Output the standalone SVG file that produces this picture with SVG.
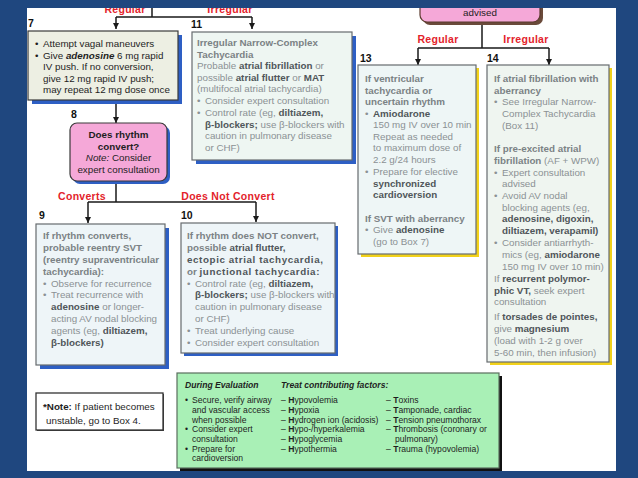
<svg xmlns="http://www.w3.org/2000/svg" width="638" height="478" viewBox="0 0 638 478">
<defs>
<marker id="ah" viewBox="0 0 10 10" refX="10" refY="5" markerWidth="6" markerHeight="8" markerUnits="userSpaceOnUse" orient="auto"><path d="M0,0 L10,5 L0,10 z" fill="#1a1a1a"/></marker>
<style>
text{font-family:"Liberation Sans",Arial,sans-serif;font-size:9.8px}
.k{fill:#1e1e1e}
.g{fill:#8b9194}
.gb{fill:#7b8285;font-weight:700}
.db{fill:#50565a;font-weight:700}
.num{font-weight:700;font-size:10.5px;fill:#111}
.lbl{font-weight:700;font-size:10.5px;fill:#e3232b;text-anchor:middle;letter-spacing:0.3px}
.sh-b{fill:#2e5fc4}
.sh-y{fill:#f2d21a}
.bx{stroke:#666b6e;stroke-width:1.2}
.conn{stroke:#1a1a1a;stroke-width:1.5;fill:none}
.sm{font-size:8.6px}
</style>
</defs>
<rect x="0" y="0" width="638" height="478" fill="#1f477f"/>
<rect x="27" y="8" width="589" height="463" fill="#ffffff"/>

<g id="connectors">
<path class="conn" d="M152,0 V17 M116,17 H252"/>
<path class="conn" d="M116,17 V29" marker-end="url(#ah)"/>
<path class="conn" d="M252,17 V29" marker-end="url(#ah)"/>
<path class="conn" d="M116,100 V123" marker-end="url(#ah)"/>
<path class="conn" d="M116,181 V202 M88,202 H256"/>
<path class="conn" d="M88,202 V223" marker-end="url(#ah)"/>
<path class="conn" d="M256,202 V222" marker-end="url(#ah)"/>
<path class="conn" d="M482,22 V48 M418,48 H549"/>
<path class="conn" d="M418,48 V65" marker-end="url(#ah)"/>
<path class="conn" d="M549,48 V65" marker-end="url(#ah)"/>
<text class="lbl" x="125" y="13">Regular</text>
<text class="lbl" x="230" y="13">Irregular</text>
<text class="lbl" x="438" y="43">Regular</text>
<text class="lbl" x="526" y="43">Irregular</text>
<text class="lbl" x="82" y="200">Converts</text>
<text class="lbl" x="228" y="200">Does Not Convert</text>
</g>

<g id="node-top">
<rect x="423" y="-8" width="120" height="33" rx="7" fill="#6a4a3a"/>
<rect x="420" y="-10" width="120" height="32" rx="7" fill="#f5a8d8" stroke="#5a3a2e" stroke-width="1.2"/>
<text x="480" y="16" text-anchor="middle" class="k">advised</text>
</g>

<g id="node7">
<text class="num" x="28" y="27">7</text>
<rect class="sh-b" x="32" y="35" width="150" height="69"/>
<rect x="28" y="31" width="150" height="69" fill="#edefe3" stroke="#3a3a3a" stroke-width="1.2"/>
<text class="k" x="35" y="47">•</text><text class="k" x="43" y="47">Attempt vagal maneuvers</text>
<text class="k" x="35" y="58.5">•</text><text class="k" x="43" y="58.5">Give <tspan font-weight="700" font-style="italic">adenosine</tspan> 6 mg rapid</text>
<text class="k" x="43" y="70">IV push. If no conversion,</text>
<text class="k" x="43" y="81.5">give 12 mg rapid IV push;</text>
<text class="k" x="43" y="93">may repeat 12 mg dose once</text>
</g>

<g id="node11">
<text class="num" x="191" y="28">11</text>
<rect class="sh-b" x="196" y="36" width="160" height="128"/>
<rect class="bx" x="192" y="32" width="160" height="128" fill="#eef6f2"/>
<text class="gb" x="197" y="46">Irregular Narrow-Complex</text>
<text class="gb" x="197" y="57.5">Tachycardia</text>
<text class="g" x="197" y="69">Probable <tspan class="db">atrial fibrillation</tspan> or</text>
<text class="g" x="197" y="81">possible <tspan class="db">atrial flutter</tspan> or <tspan class="db">MAT</tspan></text>
<text class="g" x="197" y="92">(multifocal atrial tachycardia)</text>
<text class="g" x="197" y="104">•</text><text class="g" x="205" y="104">Consider expert consultation</text>
<text class="g" x="197" y="116">•</text><text class="g" x="205" y="116">Control rate (eg, <tspan class="db">diltiazem,</tspan></text>
<text class="g" x="205" y="128"><tspan class="db">β-blockers;</tspan> use β-blockers with</text>
<text class="g" x="205" y="139">caution in pulmonary disease</text>
<text class="g" x="205" y="151">or CHF)</text>
</g>

<g id="node8">
<text class="num" x="71" y="118">8</text>
<rect class="sh-b" x="73" y="126" width="97" height="58" rx="7"/>
<rect x="70" y="123" width="97" height="58" rx="7" fill="#f5a8d8" stroke="#3a3a3a" stroke-width="1.2"/>
<text class="k" x="118.5" y="138" text-anchor="middle" font-weight="700">Does rhythm</text>
<text class="k" x="118.5" y="150" text-anchor="middle" font-weight="700">convert?</text>
<text class="k" x="118.5" y="161" text-anchor="middle"><tspan font-style="italic">Note:</tspan> Consider</text>
<text class="k" x="118.5" y="173" text-anchor="middle">expert consultation</text>
</g>

<g id="node9">
<text class="num" x="39" y="219">9</text>
<rect class="sh-b" x="40" y="228" width="129" height="141"/>
<rect class="bx" x="36" y="224" width="129" height="141" fill="#eef5f8"/>
<text class="gb" x="43" y="239">If rhythm converts,</text>
<text class="gb" x="43" y="251">probable reentry SVT</text>
<text class="gb" x="43" y="263">(reentry supraventricular</text>
<text class="gb" x="43" y="275">tachycardia):</text>
<text class="g" x="43" y="287">•</text><text class="g" x="51" y="287">Observe for recurrence</text>
<text class="g" x="43" y="298">•</text><text class="g" x="51" y="298">Treat recurrence with</text>
<text class="g" x="51" y="310"><tspan class="db">adenosine</tspan> or longer-</text>
<text class="g" x="51" y="322">acting AV nodal blocking</text>
<text class="g" x="51" y="334">agents (eg, <tspan class="db">diltiazem,</tspan></text>
<text class="db" x="51" y="346">β-blockers)</text>
</g>

<g id="node10">
<text class="num" x="181" y="219">10</text>
<rect class="sh-b" x="184" y="226" width="154" height="130"/>
<rect class="bx" x="181" y="223" width="154" height="130" fill="#eef5f8"/>
<text class="gb" x="187" y="239">If rhythm does NOT convert,</text>
<text class="gb" x="187" y="251">possible <tspan class="db">atrial flutter,</tspan></text>
<text class="db" x="187" y="263" letter-spacing="0.6">ectopic atrial tachycardia,</text>
<text class="gb" x="187" y="275">or <tspan class="db" letter-spacing="0.6">junctional tachycardia:</tspan></text>
<text class="g" x="187" y="287">•</text><text class="g" x="195" y="287">Control rate (eg, <tspan class="db">diltiazem,</tspan></text>
<text class="g" x="195" y="298"><tspan class="db">β-blockers;</tspan> use β-blockers with</text>
<text class="g" x="195" y="310">caution in pulmonary disease</text>
<text class="g" x="195" y="322">or CHF)</text>
<text class="g" x="187" y="334">•</text><text class="g" x="195" y="334">Treat underlying cause</text>
<text class="g" x="187" y="346">•</text><text class="g" x="195" y="346">Consider expert consultation</text>
</g>

<g id="node13">
<text class="num" x="360" y="62">13</text>
<rect class="sh-y" x="361" y="68" width="118" height="189"/>
<rect class="bx" x="358" y="65" width="118" height="189" fill="#eef6f6" stroke="#555"/>
<text class="gb" x="365" y="82">If ventricular</text>
<text class="gb" x="365" y="94">tachycardia or</text>
<text class="gb" x="365" y="105">uncertain rhythm</text>
<text class="g" x="365" y="117">•</text><text class="db" x="373" y="117" fill="#6a7073">Amiodarone</text>
<text class="g" x="373" y="128">150 mg IV over 10 min</text>
<text class="g" x="373" y="140">Repeat as needed</text>
<text class="g" x="373" y="151">to maximum dose of</text>
<text class="g" x="373" y="163">2.2 g/24 hours</text>
<text class="g" x="365" y="175">•</text><text class="g" x="373" y="175">Prepare for elective</text>
<text class="db" x="373" y="187">synchronized</text>
<text class="db" x="373" y="198">cardioversion</text>
<text class="gb" x="365" y="222">If SVT with aberrancy</text>
<text class="g" x="365" y="233">•</text><text class="g" x="373" y="233">Give <tspan class="db">adenosine</tspan></text>
<text class="g" x="373" y="245">(go to Box 7)</text>
</g>

<g id="node14">
<text class="num" x="487" y="62">14</text>
<rect class="sh-y" x="490" y="68" width="122" height="297"/>
<rect class="bx" x="487" y="65" width="122" height="297" fill="#eff5f0" stroke="#555"/>
<text class="gb" x="494" y="82">If atrial fibrillation with</text>
<text class="gb" x="494" y="94">aberrancy</text>
<text class="g" x="494" y="105">•</text><text class="g" x="502" y="105">See Irregular Narrow-</text>
<text class="g" x="502" y="117">Complex Tachycardia</text>
<text class="g" x="502" y="129">(Box 11)</text>
<text class="gb" x="494" y="152">If pre-excited atrial</text>
<text class="g" x="494" y="164"><tspan class="gb">fibrillation</tspan> (AF + WPW)</text>
<text class="g" x="494" y="176">•</text><text class="g" x="502" y="176">Expert consultation</text>
<text class="g" x="502" y="187">advised</text>
<text class="g" x="494" y="199">•</text><text class="g" x="502" y="199">Avoid AV nodal</text>
<text class="g" x="502" y="211">blocking agents (eg,</text>
<text class="db" x="502" y="222">adenosine, digoxin,</text>
<text class="db" x="502" y="234">diltiazem, verapamil)</text>
<text class="g" x="494" y="246">•</text><text class="g" x="502" y="246">Consider antiarrhyth-</text>
<text class="g" x="502" y="258">mics (eg, <tspan class="db">amiodarone</tspan></text>
<text class="g" x="502" y="270">150 mg IV over 10 min)</text>
<text class="g" x="494" y="282">If <tspan class="db">recurrent polymor-</tspan></text>
<text class="g" x="494" y="294"><tspan class="db">phic VT,</tspan> seek expert</text>
<text class="g" x="494" y="305">consultation</text>
<text class="g" x="494" y="320">If <tspan class="db">torsades de pointes,</tspan></text>
<text class="g" x="494" y="332">give <tspan class="db">magnesium</tspan></text>
<text class="g" x="494" y="344">(load with 1-2 g over</text>
<text class="g" x="494" y="356">5-60 min, then infusion)</text>
</g>

<g id="note">
<rect x="37" y="394" width="127" height="37" fill="#444"/>
<rect x="36" y="393" width="127" height="37" fill="#ffffff" stroke="#333" stroke-width="1.3"/>
<text class="k" x="43" y="409.5"><tspan font-weight="700">*Note:</tspan> If patient becomes</text>
<text class="k" x="46" y="424">unstable, go to Box 4.</text>
</g>

<g id="evaluation">
<rect x="180" y="376" width="322" height="95" fill="#111"/>
<rect x="177" y="373" width="322" height="95" fill="#a9f0b6" stroke="#5a6e5e" stroke-width="1.2"/>
<text class="k sm" x="185" y="388" font-weight="700" font-style="italic">During Evaluation</text>
<text class="k sm" x="281" y="388" font-weight="700" font-style="italic">Treat contributing factors:</text>
<text class="k sm" x="185" y="403">•</text><text class="k sm" x="192" y="403">Secure, verify airway</text>
<text class="k sm" x="192" y="413">and vascular access</text>
<text class="k sm" x="192" y="422.5">when possible</text>
<text class="k sm" x="185" y="432">•</text><text class="k sm" x="192" y="432">Consider expert</text>
<text class="k sm" x="192" y="442">consultation</text>
<text class="k sm" x="185" y="451.5">•</text><text class="k sm" x="192" y="451.5">Prepare for</text>
<text class="k sm" x="192" y="461">cardioversion</text>
<text class="k sm" x="281" y="403">– <tspan font-weight="700">H</tspan>ypovolemia</text>
<text class="k sm" x="281" y="413">– <tspan font-weight="700">H</tspan>ypoxia</text>
<text class="k sm" x="281" y="422.5">– <tspan font-weight="700">H</tspan>ydrogen ion (acidosis)</text>
<text class="k sm" x="281" y="432">– <tspan font-weight="700">H</tspan>ypo-/hyperkalemia</text>
<text class="k sm" x="281" y="442">– <tspan font-weight="700">H</tspan>ypoglycemia</text>
<text class="k sm" x="281" y="451.5">– <tspan font-weight="700">H</tspan>ypothermia</text>
<text class="k sm" x="386" y="403">– <tspan font-weight="700">T</tspan>oxins</text>
<text class="k sm" x="386" y="413">– <tspan font-weight="700">T</tspan>amponade, cardiac</text>
<text class="k sm" x="386" y="422.5">– <tspan font-weight="700">T</tspan>ension pneumothorax</text>
<text class="k sm" x="386" y="432">– <tspan font-weight="700">T</tspan>hrombosis (coronary or</text>
<text class="k sm" x="395" y="442">pulmonary)</text>
<text class="k sm" x="386" y="451.5">– <tspan font-weight="700">T</tspan>rauma (hypovolemia)</text>
</g>

<rect x="0" y="0" width="638" height="8" fill="#1f477f"/>
</svg>
